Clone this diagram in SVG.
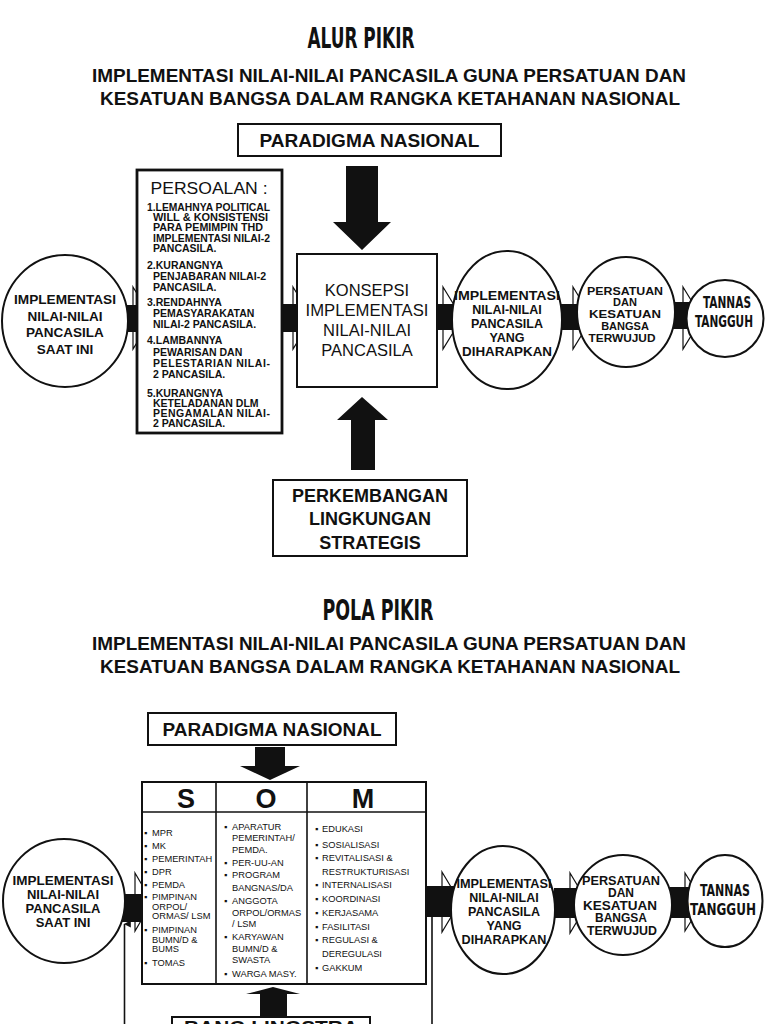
<svg xmlns="http://www.w3.org/2000/svg" width="768" height="1024" viewBox="0 0 768 1024">
<style>
text { font-family: "Liberation Sans", Arial, "DejaVu Sans", sans-serif; fill: #111; }
.title { font-family: "Liberation Sans Narrow", "DejaVu Sans Condensed", "Liberation Sans", sans-serif; font-weight: bold; font-size: 28px; text-anchor: middle; }
.sub { font-weight: bold; font-size: 18.5px; text-anchor: middle; }
.box { fill: #fff; stroke: #111; stroke-width: 2; }
.nd { fill: #fff; stroke: #111; stroke-width: 2; }
.b { font-weight: bold; }
.c { text-anchor: middle; }
.blk { fill: #111; }
.head { fill: #fff; stroke: #111; stroke-width: 1.2; }
.ln { stroke: #111; stroke-width: 1.6; fill: none; }
.ps { font-weight: bold; font-size: 10.5px; }
.som { font-size: 9.3px; }
.hd { font-weight: bold; font-size: 27px; text-anchor: middle; }
.nar { font-family: "Liberation Sans Narrow", "DejaVu Sans Condensed", sans-serif; font-weight: bold; font-size: 16px; text-anchor: middle; }
</style>
<defs>
<marker id="up" viewBox="0 0 10 10" refX="5" refY="1" markerWidth="7" markerHeight="9" orient="auto-start-reverse" markerUnits="userSpaceOnUse">
<path d="M0,10 L5,0 L10,10 Z" fill="#111"/>
</marker>
</defs>

<!-- titles -->
<g id="titles">
<text class="title" x="361" y="48" textLength="107" lengthAdjust="spacingAndGlyphs">ALUR PIKIR</text>
<text class="sub" x="389" y="82" textLength="594" lengthAdjust="spacingAndGlyphs">IMPLEMENTASI NILAI-NILAI PANCASILA GUNA PERSATUAN DAN</text>
<text class="sub" x="390" y="105" textLength="580" lengthAdjust="spacingAndGlyphs">KESATUAN BANGSA DALAM RANGKA KETAHANAN NASIONAL</text>
<text class="title" x="378" y="620" textLength="111" lengthAdjust="spacingAndGlyphs">POLA PIKIR</text>
<text class="sub" x="389" y="650" textLength="594" lengthAdjust="spacingAndGlyphs">IMPLEMENTASI NILAI-NILAI PANCASILA GUNA PERSATUAN DAN</text>
<text class="sub" x="390" y="673" textLength="580" lengthAdjust="spacingAndGlyphs">KESATUAN BANGSA DALAM RANGKA KETAHANAN NASIONAL</text>
</g>

<!-- connectors -->
<g id="connectors">
<!-- top vertical block arrows -->
<path class="blk" d="M346,166 H378 V222 H391 L362,250 L333,222 H346 Z"/>
<path class="blk" d="M362,397 L388,420 H375 V470 H351 V420 H337 Z"/>
<!-- top row horizontal arrows -->
<path class="head" d="M133,287 L152,318 L133,349 Z"/>
<rect class="blk" x="122" y="305" width="20" height="27"/>
<path class="head" d="M293,287 L312,318 L293,349 Z"/>
<rect class="blk" x="280" y="304" width="22" height="28"/>
<path class="head" d="M443,287 L462,318 L443,349 Z"/>
<rect class="blk" x="436" y="304" width="18" height="26"/>
<path class="head" d="M573,287 L592,318 L573,349 Z"/>
<rect class="blk" x="558" y="304" width="22" height="26"/>
<path class="head" d="M683,287 L702,318 L683,349 Z"/>
<rect class="blk" x="672" y="302" width="20" height="27"/>

<!-- pola vertical arrows -->
<path class="blk" d="M255,747 H285 V766 H300 L270,780 L240,766 H255 Z"/>
<path class="blk" d="M273,987 L300,994 H287 V1018 H260 V994 H246 Z"/>
<!-- bottom row horizontal arrows -->
<path class="head" d="M135,873 L152,902 L135,931 Z"/>
<rect class="blk" x="121" y="894" width="22" height="28"/>
<path class="head" d="M442,872 L460,902 L442,932 Z"/>
<rect class="blk" x="426" y="886" width="28" height="31"/>
<path class="head" d="M570,873 L588,903 L570,933 Z"/>
<rect class="blk" x="554" y="888" width="24" height="30"/>
<path class="head" d="M685,873 L703,902 L685,931 Z"/>
<rect class="blk" x="670" y="887" width="22" height="31"/>
<!-- feedback lines -->
<line class="ln" x1="124.5" y1="1030" x2="124.5" y2="924" marker-end="url(#up)"/>
<line class="ln" x1="432" y1="917" x2="432" y2="1030"/>
</g>

<!-- ALUR PIKIR nodes -->
<g id="paradigma-top">
<rect class="box" x="238" y="124" width="263" height="32"/>
<text class="b c" x="369.5" y="147" font-size="18" textLength="220" lengthAdjust="spacingAndGlyphs">PARADIGMA NASIONAL</text>
</g>

<g id="saat-ini-top">
<ellipse class="nd" cx="65" cy="321" rx="63" ry="66"/>
<text class="b c" font-size="13.5" x="65" y="304" textLength="102" lengthAdjust="spacingAndGlyphs">IMPLEMENTASI</text>
<text class="b c" font-size="13.5" x="65" y="320.5">NILAI-NILAI</text>
<text class="b c" font-size="13.5" x="65" y="337">PANCASILA</text>
<text class="b c" font-size="13.5" x="65" y="353.5">SAAT INI</text>
</g>

<g id="persoalan">
<rect x="137" y="170" width="145" height="263" fill="#fff" stroke="#111" stroke-width="2.8"/>
<text x="209" y="194" font-size="16" class="c" textLength="117" lengthAdjust="spacingAndGlyphs">PERSOALAN :</text>
<text class="ps" x="147" y="211" textLength="123" lengthAdjust="spacingAndGlyphs">1.LEMAHNYA POLITICAL</text>
<text class="ps" x="153" y="221" textLength="115" lengthAdjust="spacingAndGlyphs">WILL &amp; KONSISTENSI</text>
<text class="ps" x="153" y="231" textLength="110" lengthAdjust="spacingAndGlyphs">PARA PEMIMPIN THD</text>
<text class="ps" x="153" y="241.5" textLength="117" lengthAdjust="spacingAndGlyphs">IMPLEMENTASI NILAI-2</text>
<text class="ps" x="153" y="252">PANCASILA.</text>
<text class="ps" x="147" y="269">2.KURANGNYA</text>
<text class="ps" x="153" y="280" textLength="113" lengthAdjust="spacingAndGlyphs">PENJABARAN NILAI-2</text>
<text class="ps" x="153" y="291">PANCASILA.</text>
<text class="ps" x="147" y="306">3.RENDAHNYA</text>
<text class="ps" x="153" y="316.5">PEMASYARAKATAN</text>
<text class="ps" x="153" y="328">NILAI-2 PANCASILA.</text>
<text class="ps" x="147" y="344">4.LAMBANNYA</text>
<text class="ps" x="153" y="356">PEWARISAN DAN</text>
<text class="ps" x="153" y="367" textLength="117" lengthAdjust="spacing">PELESTARIAN NILAI-</text>
<text class="ps" x="153" y="378">2 PANCASILA.</text>
<text class="ps" x="147" y="397">5.KURANGNYA</text>
<text class="ps" x="153" y="407">KETELADANAN DLM</text>
<text class="ps" x="153" y="417" textLength="117" lengthAdjust="spacing">PENGAMALAN NILAI-</text>
<text class="ps" x="153" y="427">2 PANCASILA.</text>
</g>

<g id="konsepsi">
<rect class="box" x="297" y="254" width="140" height="133"/>
<text class="c" font-size="16.5" x="367" y="296">KONSEPSI</text>
<text class="c" font-size="16.5" x="367" y="316" textLength="123" lengthAdjust="spacingAndGlyphs">IMPLEMENTASI</text>
<text class="c" font-size="16.5" x="367" y="335.5">NILAI-NILAI</text>
<text class="c" font-size="16.5" x="367" y="355.5">PANCASILA</text>
</g>

<g id="perkembangan">
<rect class="box" x="273" y="480" width="194" height="76"/>
<text class="b c" font-size="18" x="370" y="501.5">PERKEMBANGAN</text>
<text class="b c" font-size="18" x="370" y="524.5">LINGKUNGAN</text>
<text class="b c" font-size="18" x="370" y="548.5">STRATEGIS</text>
</g>

<g id="diharapkan-top">
<ellipse class="nd" cx="507" cy="320" rx="55" ry="69"/>
<text class="b c" font-size="12.5" x="507" y="300" textLength="106" lengthAdjust="spacingAndGlyphs">IMPLEMENTASI</text>
<text class="b c" font-size="12.5" x="507" y="313.5">NILAI-NILAI</text>
<text class="b c" font-size="12.5" x="507" y="328">PANCASILA</text>
<text class="b c" font-size="12.5" x="507" y="342">YANG</text>
<text class="b c" font-size="12.5" x="507" y="356" textLength="90" lengthAdjust="spacingAndGlyphs">DIHARAPKAN</text>
</g>

<g id="persatuan-top">
<ellipse class="nd" cx="626" cy="312" rx="49" ry="55"/>
<text class="b c" font-size="11" x="625" y="294.5" textLength="76" lengthAdjust="spacingAndGlyphs">PERSATUAN</text>
<text class="b c" font-size="11" x="625" y="306">DAN</text>
<text class="b c" font-size="11" x="625" y="317.5" textLength="72" lengthAdjust="spacingAndGlyphs">KESATUAN</text>
<text class="b c" font-size="11" x="625" y="329.5">BANGSA</text>
<text class="b c" font-size="11" x="622" y="342" textLength="67" lengthAdjust="spacingAndGlyphs">TERWUJUD</text>
</g>

<g id="tannas-top">
<ellipse class="nd" cx="725" cy="318.5" rx="38.5" ry="38.5"/>
<text class="nar" x="727" y="308" textLength="48" lengthAdjust="spacingAndGlyphs">TANNAS</text>
<text class="nar" x="724" y="327" textLength="58" lengthAdjust="spacingAndGlyphs">TANGGUH</text>
</g>

<!-- POLA PIKIR nodes -->
<g id="paradigma-pola">
<rect class="box" x="148" y="713" width="248" height="32"/>
<text class="b c" x="272" y="736" font-size="18" textLength="219" lengthAdjust="spacingAndGlyphs">PARADIGMA NASIONAL</text>
</g>

<g id="saat-ini-pola">
<ellipse class="nd" cx="64" cy="901" rx="61" ry="62"/>
<text class="b c" font-size="13" x="63" y="884.5" textLength="101" lengthAdjust="spacingAndGlyphs">IMPLEMENTASI</text>
<text class="b c" font-size="13" x="63" y="898.5">NILAI-NILAI</text>
<text class="b c" font-size="13" x="63" y="912.5">PANCASILA</text>
<text class="b c" font-size="13" x="63" y="926.5">SAAT INI</text>
</g>

<g id="som">
<rect class="box" x="142" y="782" width="284" height="202"/>
<line class="ln" stroke-width="2" x1="142" y1="812" x2="426" y2="812"/>
<line class="ln" stroke-width="2" x1="216" y1="782" x2="216" y2="984"/>
<line class="ln" stroke-width="2" x1="307" y1="782" x2="307" y2="984"/>
<text class="hd" x="186" y="808">S</text>
<text class="hd" x="266" y="808">O</text>
<text class="hd" x="363" y="808">M</text>

<text class="som" y="835.5"><tspan x="144">▪</tspan><tspan x="152">MPR</tspan></text>
<text class="som" y="849"><tspan x="144">▪</tspan><tspan x="152">MK</tspan></text>
<text class="som" y="862"><tspan x="144">▪</tspan><tspan x="152">PEMERINTAH</tspan></text>
<text class="som" y="875"><tspan x="144">▪</tspan><tspan x="152">DPR</tspan></text>
<text class="som" y="887.5"><tspan x="144">▪</tspan><tspan x="152">PEMDA</tspan></text>
<text class="som" y="900"><tspan x="144">▪</tspan><tspan x="152">PIMPINAN</tspan></text>
<text class="som" x="152" y="909.5">ORPOL/</text>
<text class="som" x="152" y="918.5">ORMAS/ LSM</text>
<text class="som" y="932.5"><tspan x="144">▪</tspan><tspan x="152">PIMPINAN</tspan></text>
<text class="som" x="152" y="942.5">BUMN/D &amp;</text>
<text class="som" x="152" y="951.5">BUMS</text>
<text class="som" y="965.5"><tspan x="144">▪</tspan><tspan x="152">TOMAS</tspan></text>

<text class="som" y="829.5"><tspan x="224">▪</tspan><tspan x="232">APARATUR</tspan></text>
<text class="som" x="232" y="840.5">PEMERINTAH/</text>
<text class="som" x="232" y="852.5">PEMDA.</text>
<text class="som" y="865.5"><tspan x="224">▪</tspan><tspan x="232">PER-UU-AN</tspan></text>
<text class="som" y="877.5"><tspan x="224">▪</tspan><tspan x="232">PROGRAM</tspan></text>
<text class="som" x="232" y="890.5">BANGNAS/DA</text>
<text class="som" y="903.5"><tspan x="224">▪</tspan><tspan x="232">ANGGOTA</tspan></text>
<text class="som" x="232" y="915.5">ORPOL/ORMAS</text>
<text class="som" x="232" y="926.5">/ LSM</text>
<text class="som" y="939.5"><tspan x="224">▪</tspan><tspan x="232">KARYAWAN</tspan></text>
<text class="som" x="232" y="951.5">BUMN/D &amp;</text>
<text class="som" x="232" y="962.5">SWASTA</text>
<text class="som" y="976.5"><tspan x="224">▪</tspan><tspan x="232">WARGA MASY.</tspan></text>

<text class="som" y="831.5"><tspan x="315">▪</tspan><tspan x="322">EDUKASI</tspan></text>
<text class="som" y="847.5"><tspan x="315">▪</tspan><tspan x="322">SOSIALISASI</tspan></text>
<text class="som" y="860.5"><tspan x="315">▪</tspan><tspan x="322">REVITALISASI &amp;</tspan></text>
<text class="som" x="322" y="874.5">RESTRUKTURISASI</text>
<text class="som" y="887.5"><tspan x="315">▪</tspan><tspan x="322">INTERNALISASI</tspan></text>
<text class="som" y="901.5"><tspan x="315">▪</tspan><tspan x="322">KOORDINASI</tspan></text>
<text class="som" y="915.5"><tspan x="315">▪</tspan><tspan x="322">KERJASAMA</tspan></text>
<text class="som" y="929.5"><tspan x="315">▪</tspan><tspan x="322">FASILITASI</tspan></text>
<text class="som" y="942.5"><tspan x="315">▪</tspan><tspan x="322">REGULASI &amp;</tspan></text>
<text class="som" x="322" y="956.5">DEREGULASI</text>
<text class="som" y="970.5"><tspan x="315">▪</tspan><tspan x="322">GAKKUM</tspan></text>
</g>

<g id="banglingstra">
<rect class="box" x="172" y="1017" width="198" height="40"/>
<text class="b c" x="271" y="1034" font-size="18" textLength="174" lengthAdjust="spacingAndGlyphs">BANG LINGSTRA</text>
</g>

<g id="diharapkan-pola">
<ellipse class="nd" cx="503" cy="910" rx="52" ry="64"/>
<text class="b c" font-size="12.5" x="504" y="887.5" textLength="95" lengthAdjust="spacingAndGlyphs">IMPLEMENTASI</text>
<text class="b c" font-size="12.5" x="504" y="901.5">NILAI-NILAI</text>
<text class="b c" font-size="12.5" x="504" y="915.5">PANCASILA</text>
<text class="b c" font-size="12.5" x="504" y="929.5">YANG</text>
<text class="b c" font-size="12.5" x="504" y="943.5" textLength="85" lengthAdjust="spacingAndGlyphs">DIHARAPKAN</text>
</g>

<g id="persatuan-pola">
<ellipse class="nd" cx="623" cy="905" rx="49" ry="50"/>
<text class="b c" font-size="12" x="621" y="885" textLength="78" lengthAdjust="spacingAndGlyphs">PERSATUAN</text>
<text class="b c" font-size="12" x="621" y="897">DAN</text>
<text class="b c" font-size="12" x="620" y="910" textLength="74" lengthAdjust="spacingAndGlyphs">KESATUAN</text>
<text class="b c" font-size="12" x="621" y="922">BANGSA</text>
<text class="b c" font-size="12" x="622" y="934.5" textLength="70" lengthAdjust="spacingAndGlyphs">TERWUJUD</text>
</g>

<g id="tannas-pola">
<ellipse class="nd" cx="725" cy="901" rx="37.5" ry="46"/>
<text class="nar" x="725" y="895.5" textLength="50" lengthAdjust="spacingAndGlyphs">TANNAS</text>
<text class="nar" x="723" y="914.5" textLength="66" lengthAdjust="spacingAndGlyphs">TANGGUH</text>
</g>
</svg>
